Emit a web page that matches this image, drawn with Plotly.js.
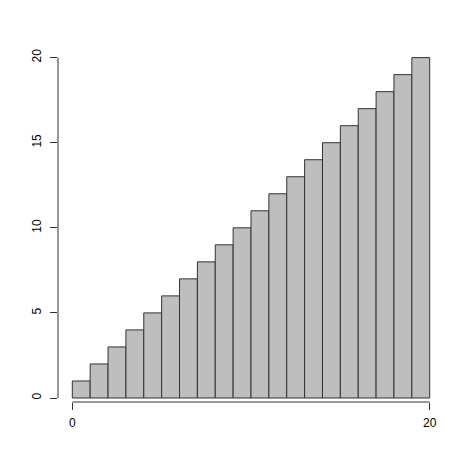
<!DOCTYPE html>
<html>
<head>
<meta charset="utf-8">
<script src="https://cdn.plot.ly/plotly-3.0.1.min.js"></script>
<style>html,body{margin:0;padding:0;background:#fff;}#chart{width:474px;height:474px;}</style>
</head>
<body>
<div id="chart"></div>
<script>
const barPositions = [0.5,1.5,2.5,3.5,4.5,5.5,6.5,7.5,8.5,9.5,10.5,11.5,12.5,13.5,14.5,15.5,16.5,17.5,18.5,19.5];
const barHeights = [1,2,3,4,5,6,7,8,9,10,11,12,13,14,15,16,17,18,19,20];
const xTickVals = [0, 20];
const xTickText = ['0', '20'];
const yTickVals = [0, 5, 10, 15, 20];
const yTickText = ['0', '5', '10', '15', '20'];

const trace = {
  type: 'bar',
  x: barPositions,
  y: barHeights,
  width: 1,
  marker: {color: '#bebebe', line: {color: '#333333', width: 1}},
  hoverinfo: 'none'
};

const font = {family: 'Liberation Sans, Arial, sans-serif', size: 12, color: '#000'};

const layout = {
  width: 474, height: 474,
  paper_bgcolor: '#fff', plot_bgcolor: '#fff',
  margin: {l: 58, r: 30, t: 44, b: 72, pad: 0},
  showlegend: false,
  font: font,
  xaxis: {
    range: [-0.8, 20.8], showgrid: false, zeroline: false, showline: false,
    tickmode: 'array', tickvals: xTickVals, ticktext: xTickText,
    ticks: 'outside', ticklen: 7, tickwidth: 1, tickcolor: '#333',
    ticklabelstandoff: 3, tickfont: font, fixedrange: true
  },
  yaxis: {
    range: [-0.235, 20.8], showgrid: false, zeroline: false, showline: false,
    tickmode: 'array', tickvals: yTickVals, ticktext: yTickText,
    ticks: 'outside', ticklen: 7, tickwidth: 1, tickcolor: '#333',
    tickangle: -90, ticklabelstandoff: 4, tickfont: font, fixedrange: true
  },
  shapes: [
    {type: 'line', xref: 'x', yref: 'paper', x0: xTickVals[0], x1: xTickVals[1], y0: 0, y1: 0, line: {color: '#333', width: 1}},
    {type: 'line', xref: 'paper', yref: 'y', x0: 0, x1: 0, y0: yTickVals[0], y1: yTickVals[yTickVals.length-1], line: {color: '#333', width: 1}}
  ]
};

Plotly.newPlot('chart', [trace], layout, {staticPlot: true, displayModeBar: false});
</script>
</body>
</html>
